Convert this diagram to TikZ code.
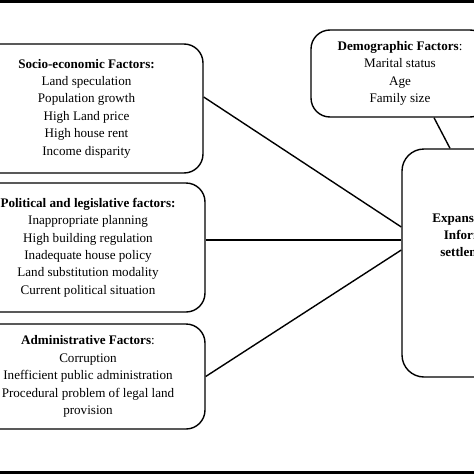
\documentclass[tikz,border=0pt]{standalone}
\usepackage{fontspec}
\setmainfont{Liberation Serif}
\begin{document}
\begin{tikzpicture}[x=1pt,y=-1pt,
  factor/.style={draw, line width=1.4pt, rounded corners=19pt, align=center, inner sep=0pt,
    font=\fontsize{13.1}{17.4}\selectfont},
  plain/.style={align=center, inner sep=0pt, font=\fontsize{13.1}{17}\selectfont\bfseries},
  link/.style={line width=1.4pt}]
\useasboundingbox (0,0) rectangle (474,474);
\begin{scope}
\clip (0,0) rectangle (474,474);
\node[factor, minimum width=233pt, minimum height=129pt] (socio) at (86.5,108.5)
  {\textbf{Socio-economic Factors:}\\Land speculation\\Population growth\\High Land price\\High house rent\\Income disparity};
\node[factor, minimum width=234pt, minimum height=129pt] (polit) at (88,247.5)
  {\textbf{Political and legislative factors:}\\Inappropriate planning\\High building regulation\\Inadequate house policy\\Land substitution modality\\Current political situation};
\node[factor, minimum width=234pt, minimum height=105pt] (admin) at (88,376.5)
  {\textbf{Administrative Factors}:\\Corruption\\Inefficient public administration\\Procedural problem of legal land\\provision};
\node[factor, minimum width=178pt, minimum height=87pt] (demo) at (400,73.5)
  {\textbf{Demographic Factors}:\\Marital status\\Age\\Family size};
\node[factor, rounded corners=22pt, minimum width=134pt, minimum height=228pt] (expn) at (469,263) {};
\node[plain] (exptext) at (469,235) {Expansion of\\Informal\\settlement};
\draw[link] ([yshift=11.5pt]socio.east) -- ([yshift=36pt]expn.west);
\draw[link] ([yshift=7.5pt]polit.east) -- ([yshift=23pt]expn.west);
\draw[link] (admin.east) -- ([yshift=13pt]expn.west);
\draw[link] ([xshift=34pt]demo.south) -- ([xshift=-19pt]expn.north);
\end{scope}
\fill[black] (0,0) rectangle (474,2.5);
\fill[black] (0,470.5) rectangle (474,474);
\end{tikzpicture}
\end{document}
